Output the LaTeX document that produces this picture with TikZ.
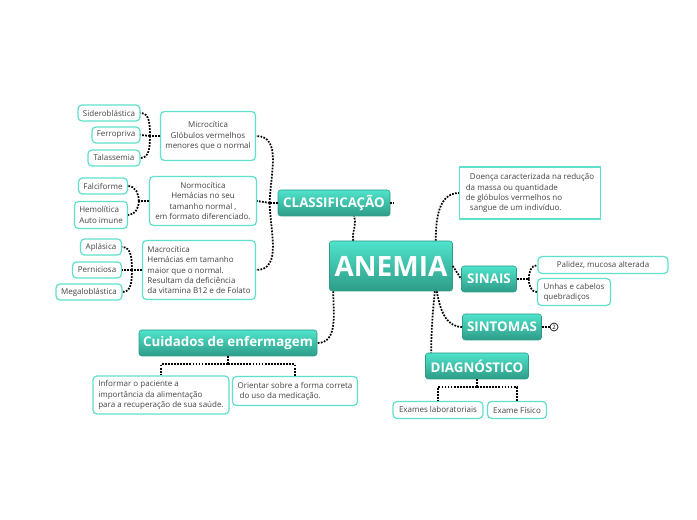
\documentclass[tikz,border=0pt]{standalone}
\usepackage{fontspec}
\setmainfont{Open Sans}
\usetikzlibrary{calc}
\begin{document}
\begin{tikzpicture}[x=0.75pt,y=-0.75pt,
 sz/.style 2 args={minimum width=#1*0.75pt,minimum height=#2*0.75pt},
 main/.style={rounded corners=2pt,top color=green1,bottom color=green2,draw=green2,text=white,font=\bfseries\fontsize{10}{12}\selectfont,inner sep=0pt},
 leaf/.style={rounded corners=3pt,draw=bordc,line width=0.9pt,fill=white,text=txtc,font=\fontsize{6}{7.6}\selectfont,align=center,inner sep=0pt},
 conn/.style={densely dotted,line width=1.3pt,black}]
\definecolor{green1}{HTML}{4FE3CB}
\definecolor{green2}{HTML}{2E9C88}
\definecolor{bordc}{HTML}{5FE0CD}
\definecolor{txtc}{HTML}{444444}
\useasboundingbox (0,0) rectangle (697,520);
\fill[white] (0,0) rectangle (697,520);
% main nodes
\node[main,sz={123}{50},font=\bfseries\fontsize{21}{24}\selectfont] (an) at (391,266) {ANEMIA};
\node[main,sz={112}{26}] (cl) at (334,203) {CLASSIFICAÇÃO};
\node[main,sz={55}{26}] (si) at (489,279) {SINAIS};
\node[main,sz={79}{26}] (st) at (502,327) {SINTOMAS};
\node[main,sz={103}{26}] (dg) at (477,366) {DIAGNÓSTICO};
\node[main,sz={178}{26}] (cu) at (228,343) {Cuidados de enfermagem};
% leaves
\node[leaf,rounded corners=0pt,sz={141}{52},align=left] (df) at (530,193) {\ \ Doença caracterizada na redução\\da massa ou quantidade\\de glóbulos vermelhos no\\\ \ sangue de um indivíduo.};
\node[leaf,sz={130}{17}] (pa) at (603,265) {Palidez, mucosa alterada};
\node[leaf,sz={73}{27},align=left] (un) at (574,292) {Unhas e cabelos\\quebradiços};
\node[draw,circle,inner sep=0pt,minimum size=6pt,font=\fontsize{4.5}{5}\selectfont,line width=0.5pt] (c2) at (554,327) {2};
\node[leaf,sz={90}{17}] (el) at (438,410) {Exames laboratoriais};
\node[leaf,sz={59}{17}] (ef) at (517,410) {Exame Físico};
\node[leaf,sz={136}{38},align=left] (inf) at (161,395) {Informar o paciente a\\importância da alimentação\\para a recuperação de sua saúde.};
\node[leaf,sz={125}{29},align=left] (ori) at (295,391) {Orientar sobre a forma correta\\\ do uso da medicação.};
\node[leaf,sz={95}{49}] (mi) at (208,136) {Microcítica\\Glóbulos vermelhos\\menores que o normal};
\node[leaf,sz={107}{49}] (no) at (203,201) {Normocítica\\Hemácias no seu\\tamanho normal ,\\em formato diferenciado.};
\node[leaf,sz={113}{59},align=left] (ma) at (199,270) {Macrocítica\\Hemácias em tamanho\\maior que o normal.\\Resultam da deficiência\\da vitamina B12 e de Folato};
\node[leaf,sz={62}{16}] (sb) at (109,113) {Sideroblástica};
\node[leaf,sz={48}{16}] (fp) at (116,135) {Ferropriva};
\node[leaf,sz={52}{16}] (ta) at (114,158) {Talassemia};
\node[leaf,sz={49}{16}] (fa) at (103,186) {Falciforme};
\node[leaf,sz={53}{27},align=left] (he) at (101,215) {Hemolítica\\Auto imune};
\node[leaf,sz={41}{16}] (ap) at (101,247) {Aplásica};
\node[leaf,sz={49}{16}] (pe) at (97,270) {Perniciosa};
\node[leaf,sz={66}{16}] (mg) at (89,292) {Megaloblástica};
% connectors
\draw[conn] ($(an.north west)+(24,0)$) to[out=100,in=-70] ($(cl.south)+(20,0)$);
\draw[conn] (cl.east) -- ++(4,0);
\draw[conn] ($(an.north east)+(-17,0)$) to[out=90,in=180] (df.west);
\draw[conn] (an.east) -- (si.west);
\draw[conn] ($(an.south east)+(-16,0)$) to[out=-80,in=180] (st.west);
\draw[conn] ($(an.south east)+(-18,0)$) to[out=-95,in=90] ($(dg.north west)+(6,0)$);
\draw[conn] ($(an.south west)+(4,0)$) to[out=-90,in=0] (cu.east);
\draw[conn] (st.east) -- (c2.west);
\draw[conn] (si.east) -- ++(12,0) coordinate (sj);
\draw[conn] (sj) to[out=90,in=180] (pa.west);
\draw[conn] (sj) to[out=-90,in=180] (un.west);
\draw[conn] (dg.south) -- ++(0,8) coordinate (dj);
\draw[conn] (dj) -| (el.north);
\draw[conn] (dj) -| (ef.north);
\draw[conn] (cu.south) -- ++(0,8) coordinate (cj);
\draw[conn] (cj) -| (inf.north);
\draw[conn] (cj) -| (ori.north);
\draw[conn] (cl.west) -- ++(-8,0) coordinate (kj);
\draw[conn] (kj) to[out=90,in=0] (mi.east);
\draw[conn] (kj) -- (no.east);
\draw[conn] (kj) to[out=-90,in=0] (ma.east);
\draw[conn] (mi.west) -- ++(-10,0) coordinate (mj);
\draw[conn] (mj) to[out=90,in=0] (sb.east);
\draw[conn] (mj) -- (fp.east);
\draw[conn] (mj) to[out=-90,in=0] (ta.east);
\draw[conn] (no.west) -- ++(-10,0) coordinate (nj);
\draw[conn] (nj) to[out=90,in=0] (fa.east);
\draw[conn] (nj) to[out=-90,in=0] (he.east);
\draw[conn] (ma.west) -- ++(-10,0) coordinate (aj);
\draw[conn] (aj) to[out=90,in=0] (ap.east);
\draw[conn] (aj) -- (pe.east);
\draw[conn] (aj) to[out=-90,in=0] (mg.east);
\end{tikzpicture}
\end{document}
